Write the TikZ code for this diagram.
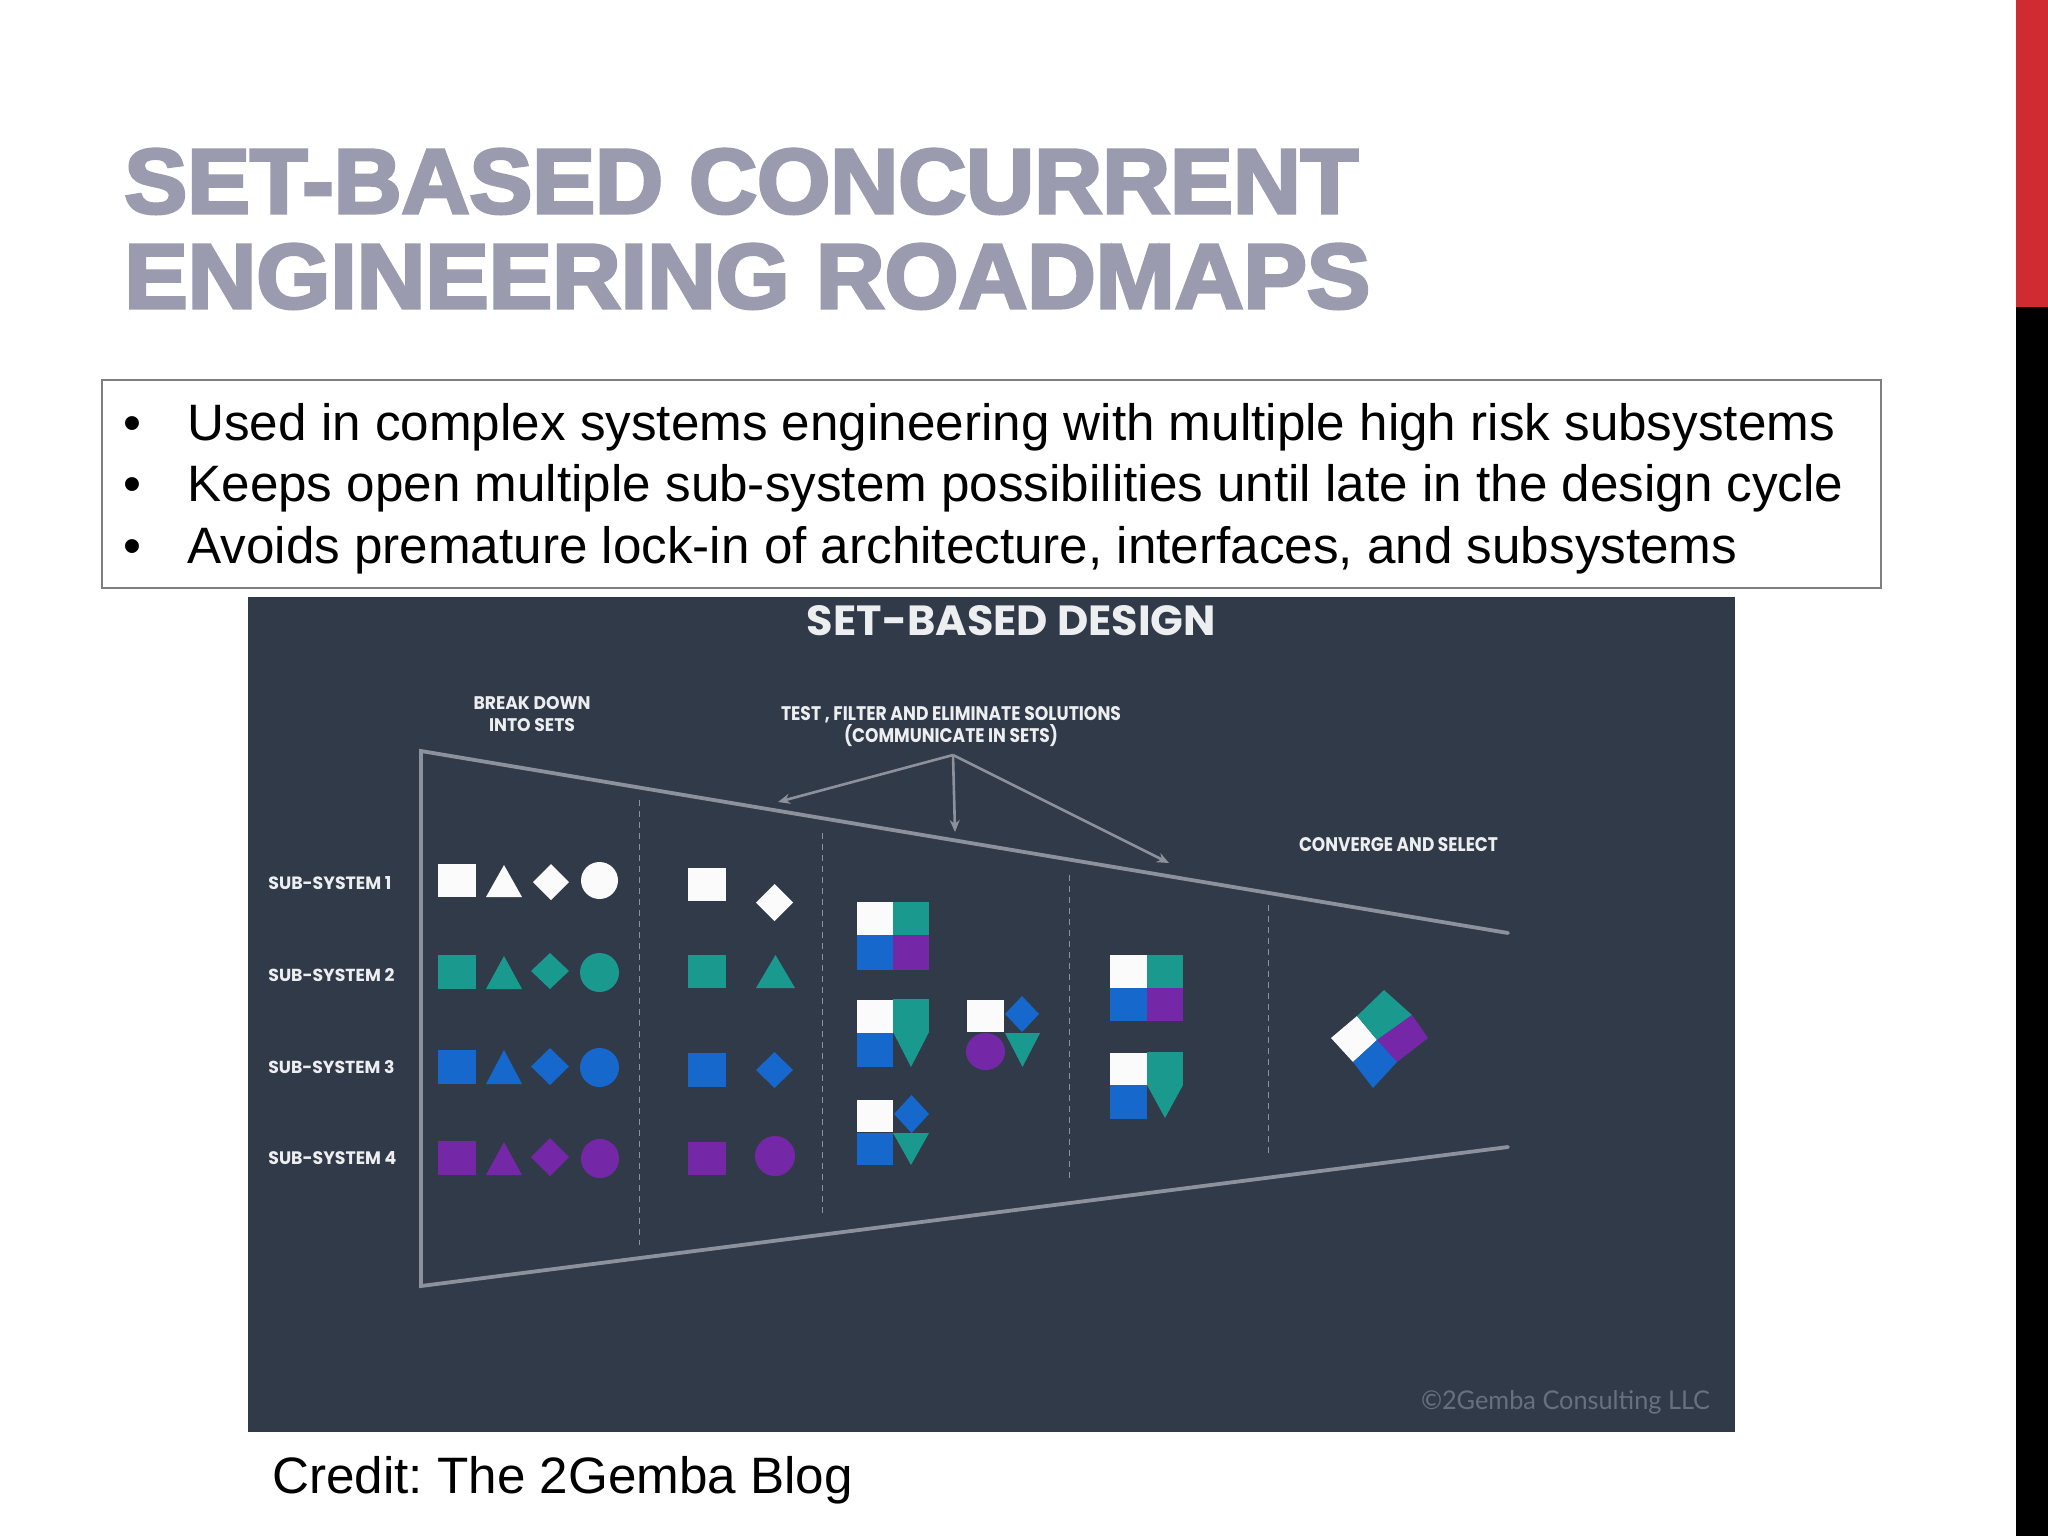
\documentclass[tikz,border=0pt]{standalone}
\usepackage{graphicx}
\usepackage{fontspec}
\setmainfont{Liberation Sans}
\newfontfamily\titlefont[FakeBold=3.5]{Liberation Sans Bold}
\newfontfamily\panelfont{Poppins}
\newfontfamily\markfont{Lato}
\usetikzlibrary{arrows.meta}
\definecolor{titlegray}{HTML}{9A9BAE}
\definecolor{panelbg}{HTML}{313A49}
\definecolor{shteal}{HTML}{1A9A8F}
\definecolor{shblue}{HTML}{1668CC}
\definecolor{shpurple}{HTML}{7428A8}
\definecolor{shwhite}{HTML}{FBFBFB}
\definecolor{linegray}{HTML}{8D919C}
\definecolor{barred}{HTML}{D02B30}
\definecolor{boxline}{HTML}{7F7F7F}
\definecolor{paneltext}{HTML}{EDEEF0}
\definecolor{marktext}{HTML}{687080}
\newcommand{\fitto}[3]{\resizebox{\dimexpr #1pt/2\relax}{\dimexpr #2pt/2\relax}{#3}}
\newcommand{\shpsq}[5]{\fill[#5] (#1,#2) rectangle (#3,#4);}
\newcommand{\shptri}[5]{\fill[#5] (#1,#4) -- ({(#1+#3)/2},#2) -- (#3,#4) -- cycle;}
\newcommand{\shpdtri}[5]{\fill[#5] (#1,#2) -- (#3,#2) -- ({(#1+#3)/2},#4) -- cycle;}
\newcommand{\shpdia}[5]{\fill[#5] (#1,{(#2+#4)/2}) -- ({(#1+#3)/2},#2) -- (#3,{(#2+#4)/2}) -- ({(#1+#3)/2},#4) -- cycle;}
\newcommand{\shpcirc}[5]{\fill[#5] ({(#1+#3)/2},{(#2+#4)/2}) ellipse [x radius={(#3-#1)/2},y radius={(#4-#2)/2}];}
\tikzset{
  x=0.5pt,y=-0.5pt,
  titletext/.style={anchor=base west,inner sep=0pt,text=titlegray,font=\titlefont\fontsize{44}{44}\selectfont},
  bullettext/.style={anchor=base west,inner sep=0pt,text=black,font=\frenchspacing\fontsize{25.6}{30}\selectfont},
  paneltextstyle/.style={inner sep=0pt,text=paneltext,font=\panelfont\bfseries\fontsize{12}{12}\selectfont},
  frame/.style={draw=linegray,line width=1.9pt,line cap=round,line join=miter},
  thinarrow/.style={draw=linegray,line width=1.3pt,-{Stealth[length=6pt,width=5pt]}},
  divider/.style={draw=linegray,line width=0.5pt,dash pattern=on 3pt off 2.5pt},
}
\begin{document}
\begin{tikzpicture}
\useasboundingbox (0,0) rectangle (2048,1536);
\fill[white] (0,0) rectangle (2048,1536);
% side bar
\fill[barred] (2016,0) rectangle (2048,307);
\fill[black] (2016,307) rectangle (2048,1536);
% title
\node[titletext] (t1) at (124,213) {\fitto{1234}{64}{SET-BASED CONCURRENT}};
\node[titletext] (t2) at (124,308) {\fitto{1246}{64}{ENGINEERING ROADMAPS}};
% bullet box
\draw[boxline,line width=0.6pt] (102,380) rectangle (1881,588);
\node[bullettext] (b1) at (123,440) {•};
\node[bullettext] (b2) at (123,501.5) {•};
\node[bullettext] (b3) at (123,563) {•};
\node[bullettext] (l1) at (187,440) {Used in complex systems engineering with multiple high risk subsystems};
\node[bullettext] (l2) at (187,501.5) {Keeps open multiple sub-system possibilities until late in the design cycle};
\node[bullettext] (l3) at (187,563) {Avoids premature lock-in of architecture, interfaces, and subsystems};
% panel
\fill[panelbg] (248,597) rectangle (1735,1432);
\node[paneltextstyle] (ptitle) at (1011.5,621) {\fitto{409}{30}{SET-BASED DESIGN}};
\node[paneltextstyle] (pb1) at (532,703.5) {\fitto{117}{13}{BREAK DOWN}};
\node[paneltextstyle] (pb2) at (532,725.5) {\fitto{86}{13}{INTO SETS}};
\node[paneltextstyle] (pc1) at (951,715) {\fitto{340}{14}{TEST , FILTER AND ELIMINATE SOLUTIONS}};
\node[paneltextstyle] (pc2) at (951,736) {\fitto{214}{18}{(COMMUNICATE IN SETS)}};
\node[paneltextstyle] (pd) at (1398.5,845) {\fitto{199}{14}{CONVERGE AND SELECT}};
\node[paneltextstyle,anchor=west] (s1) at (268,883) {\fitto{123}{13}{SUB-SYSTEM 1}};
\node[paneltextstyle,anchor=west] (s2) at (268,975) {\fitto{126}{13}{SUB-SYSTEM 2}};
\node[paneltextstyle,anchor=west] (s3) at (268,1067) {\fitto{126}{13}{SUB-SYSTEM 3}};
\node[paneltextstyle,anchor=west] (s4) at (268,1158) {\fitto{128}{13}{SUB-SYSTEM 4}};
\node[inner sep=0pt,text=marktext,font=\markfont\fontsize{12}{12}\selectfont] (mk) at (1565.5,1402) {\fitto{289}{19}{©2Gemba Consulting LLC}};
% funnel
\coordinate (ftop) at (421,751);
\coordinate (fbot) at (421,1286);
\coordinate (ftr) at (1508,933);
\coordinate (fbr) at (1508,1147);
\draw[frame] (ftr) -- (ftop) -- (fbot) -- (fbr);
% dividers
\coordinate (d1a) at (639.5,800); \coordinate (d1b) at (639.5,1245);
\coordinate (d2a) at (822,833);   \coordinate (d2b) at (822,1213);
\coordinate (d3a) at (1069,875);  \coordinate (d3b) at (1069,1182);
\coordinate (d4a) at (1268,905);  \coordinate (d4b) at (1268,1153);
\draw[divider] (d1a) -- (d1b);
\draw[divider] (d2a) -- (d2b);
\draw[divider] (d3a) -- (d3b);
\draw[divider] (d4a) -- (d4b);
% arrows
\coordinate (apex) at (953,755);
\coordinate (ar1) at (778,802);
\coordinate (ar2) at (955,832);
\coordinate (ar3) at (1169,863);
\draw[thinarrow] (apex) -- (ar1);
\draw[thinarrow] (apex) -- (ar2);
\draw[thinarrow] (apex) -- (ar3);
% column 1
\shpsq{438}{864}{476}{897}{shwhite}
\shptri{486}{865}{522}{897}{shwhite}
\shpdia{533}{864}{569}{900}{shwhite}
\shpcirc{581}{862}{618}{899}{shwhite}
\shpsq{438}{955}{476}{989}{shteal}
\shptri{486}{956}{522}{989}{shteal}
\shpdia{531}{953}{569}{989}{shteal}
\shpcirc{580}{953}{619}{992}{shteal}
\shpsq{438}{1050}{476}{1084}{shblue}
\shptri{486}{1050}{522}{1084}{shblue}
\shpdia{531}{1048}{569}{1085}{shblue}
\shpcirc{580}{1048}{619}{1087}{shblue}
\shpsq{438}{1141}{476}{1175}{shpurple}
\shptri{486}{1142}{522}{1175}{shpurple}
\shpdia{531}{1138}{569}{1176}{shpurple}
\shpcirc{581}{1139}{619}{1178}{shpurple}
% column 2
\shpsq{688}{868}{726}{901}{shwhite}
\shpdia{756}{884}{793}{921}{shwhite}
\shpsq{688}{955}{726}{988}{shteal}
\shptri{756}{955}{795}{988}{shteal}
\shpsq{688}{1053}{726}{1087}{shblue}
\shpdia{756}{1052}{793}{1088}{shblue}
\shpsq{688}{1142}{726}{1175}{shpurple}
\shpcirc{755}{1136}{795}{1176}{shpurple}
% column 3
\shpsq{857}{902}{893}{935}{shwhite}
\shpsq{893}{902}{929}{935}{shteal}
\shpsq{857}{935}{893}{970}{shblue}
\shpsq{893}{935}{929}{970}{shpurple}
\shpsq{857}{1000}{893}{1033}{shwhite}
\shpsq{893}{999}{929}{1032}{shteal}
\shpsq{857}{1033}{893}{1067}{shblue}
\shpdtri{893}{1032}{929}{1067}{shteal}
\shpsq{857}{1100}{893}{1132}{shwhite}
\shpdia{894}{1095}{929}{1133}{shblue}
\shpsq{857}{1133}{893}{1165}{shblue}
\shpdtri{893}{1133}{929}{1165}{shteal}
\shpsq{967}{1000}{1004}{1032}{shwhite}
\shpdia{1005}{996}{1039}{1032}{shblue}
\shpcirc{966}{1033}{1005}{1070}{shpurple}
\shpdtri{1005}{1033}{1040}{1067}{shteal}
% column 4
\shpsq{1110}{955}{1147}{988}{shwhite}
\shpsq{1147}{955}{1183}{988}{shteal}
\shpsq{1110}{988}{1147}{1021}{shblue}
\shpsq{1147}{988}{1183}{1021}{shpurple}
\shpsq{1110}{1053}{1147}{1085}{shwhite}
\shpsq{1147}{1052}{1183}{1085}{shteal}
\shpsq{1110}{1085}{1147}{1119}{shblue}
\shpdtri{1147}{1085}{1183}{1118}{shteal}
% final diamond
\coordinate (dT) at (1384,990);
\coordinate (dR) at (1428,1038);
\coordinate (dB) at (1373,1088);
\coordinate (dL) at (1331,1038);
\coordinate (dC) at (1377,1040);
\coordinate (mTL) at (1357,1016);
\coordinate (mTR) at (1412,1015);
\coordinate (mRB) at (1397,1062);
\coordinate (mBL) at (1353,1062);
\fill[shwhite] (dL) -- (mTL) -- (dC) -- (mBL) -- cycle;
\fill[shteal] (mTL) -- (dT) -- (mTR) -- (dC) -- cycle;
\fill[shpurple] (dC) -- (mTR) -- (dR) -- (mRB) -- cycle;
\fill[shblue] (mBL) -- (dC) -- (mRB) -- (dB) -- cycle;
% credit
\node[bullettext] (cr) at (272,1493) {Credit: The 2Gemba Blog};
\end{tikzpicture}
\end{document}
